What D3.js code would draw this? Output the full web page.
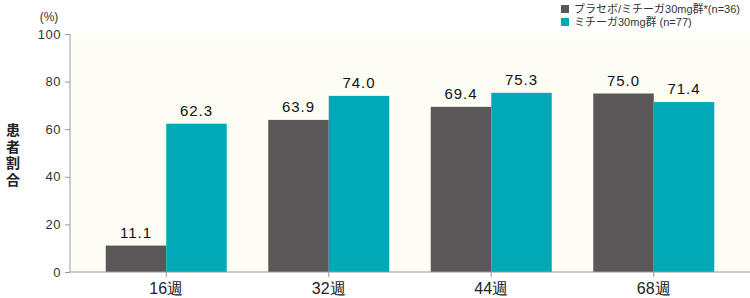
<!DOCTYPE html>
<html><head><meta charset="utf-8">
<script src="https://cdn.jsdelivr.net/npm/d3@7"></script>
<style>body{margin:0;background:#fff;}svg{display:block;font-family:"Liberation Sans","Noto Sans CJK JP",sans-serif;}</style>
</head><body><svg id="c" width="750" height="298"></svg>
<script>
const categories = ["16週","32週","44週","68週"];
const placebo = [11.1, 63.9, 69.4, 75.0];
const mitchga = [62.3, 74.0, 75.3, 71.4];
const seriesNames = ["プラセボ/ミチーガ30mg群*(n=36)", "ミチーガ30mg群 (n=77)"];
const yTicks = [0,20,40,60,80,100];
const colors = ["#595757","#00a9b5"];

const svg = d3.select("#c");
const x = d3.scaleBand().domain(categories).range([85,735]).padding(0);
const y = d3.scaleLinear().domain([0,100]).range([272,34]);
const bw = 60.5;

svg.append("rect").attr("x",71).attr("y",y(100)).attr("width",679).attr("height",y(0)-y(100)).attr("fill","#fefdf4");

const series = [placebo, mitchga];
series.forEach((vals,si)=>{
  const g = svg.append("g");
  g.selectAll("rect").data(vals).enter().append("rect")
    .attr("x",(d,i)=>x(categories[i])+x.bandwidth()/2 + (si===0?-bw:0))
    .attr("y",d=>y(d)).attr("width",bw).attr("height",d=>y(0)-y(d))
    .attr("fill",colors[si]);
  g.selectAll("text").data(vals).enter().append("text")
    .attr("x",(d,i)=>x(categories[i])+x.bandwidth()/2 + (si===0?-bw/2:bw/2))
    .attr("y",d=>y(d)-8).attr("text-anchor","middle")
    .attr("font-size",15).attr("letter-spacing","1px").attr("fill","#111")
    .text(d=>d.toFixed(1));
});

// y axis
const ya = svg.append("g").attr("transform","translate(70,0)")
  .call(d3.axisLeft(y).tickValues(yTicks).tickSize(5).tickPadding(4));
ya.select(".domain").attr("stroke","#999").attr("d","M0,"+y(100)+"V"+y(0));
ya.selectAll(".tick line").attr("stroke","#999");
ya.selectAll(".tick text").attr("font-size",13).attr("letter-spacing","0.5px").attr("fill","#333");

// x axis
const xa = svg.append("g").attr("transform","translate(0,272)")
  .call(d3.axisBottom(x).tickSize(5).tickPadding(6));
xa.select(".domain").attr("stroke","#999").attr("d","M70,0H750");
xa.selectAll(".tick line").attr("stroke","#999");
xa.selectAll(".tick text").attr("font-size",16).attr("fill","#222");

svg.append("text").attr("x",49).attr("y",21).attr("text-anchor","middle").attr("font-size",12).attr("fill","#333").text("(%)");

const lab = "患者割合".split("");
svg.append("g").selectAll("text").data(lab).enter().append("text")
  .attr("x",13).attr("y",(d,i)=>135+i*16.5).attr("text-anchor","middle")
  .attr("font-size",14).attr("font-weight","bold").attr("fill","#222")
  .text(d=>d);

// legend
const lg = svg.append("g");
seriesNames.forEach((n,i)=>{
  lg.append("rect").attr("x",561).attr("y",5+i*13).attr("width",8).attr("height",8).attr("fill",colors[i]);
  lg.append("text").attr("x",574).attr("y",13+i*13).attr("font-size",11).attr("fill","#333")
    .text(n);
});
</script></body></html>
